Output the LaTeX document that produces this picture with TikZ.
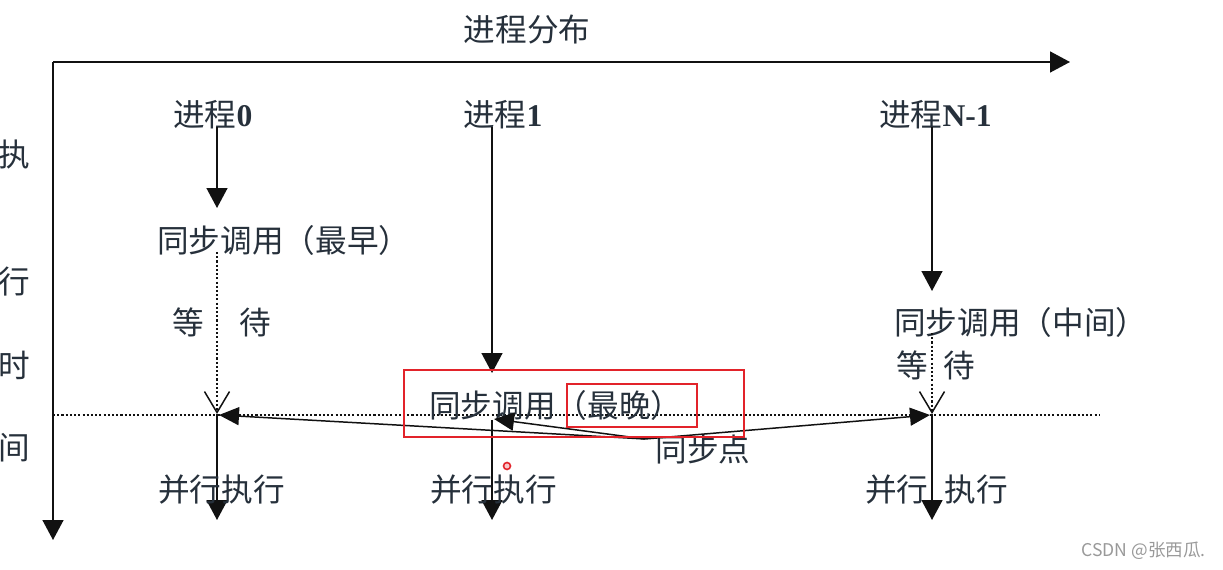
\documentclass[tikz,border=0pt]{standalone}
\usepackage{fontspec}
\setmainfont{Liberation Serif}
\newfontfamily\cjk{Noto Sans CJK SC}
\usepackage{xcolor}
\usetikzlibrary{arrows.meta}
\definecolor{ink}{HTML}{111111}
\definecolor{txt}{HTML}{26303B}
\definecolor{hlred}{HTML}{E2232A}
\definecolor{wm}{HTML}{999999}
\tikzset{
  arr/.style={draw=ink, line width=0.85pt, -{Triangle[length=0.4cm, width=0.42cm]}},
  waitline/.style={draw=ink, line width=0.85pt, dash pattern=on 1.2pt off 1.2pt, -{Straight Barb[length=0.42cm, width=0.5cm]}},
  syncline/.style={draw=ink, line width=0.85pt, dash pattern=on 1.2pt off 1.2pt},
  ptr/.style={draw=ink, line width=0.85pt, -{Triangle[length=0.4cm, width=0.36cm]}},
  markbox/.style={draw=hlred, line width=1.1pt},
  lbl/.style={text=txt, font=\cjk\fontsize{18}{21}\selectfont, inner sep=0pt},
  wmark/.style={text=wm, font=\cjk\fontsize{10}{12}\selectfont, inner sep=0pt}
}
\newcommand{\lat}[1]{{\rmfamily\bfseries #1}}

\begin{document}
\begin{tikzpicture}[x=0.02cm, y=-0.02cm]
  \useasboundingbox (0,0) rectangle (1223,570);

  % axes
  \coordinate (O) at (53,62);
  \coordinate (X) at (1070,62);
  \coordinate (Y) at (53,540);
  \draw[arr] (O) -- (X);
  \draw[arr] (O) -- (Y);
  \node[lbl] (xlbl) at (527,30) {进程分布};
  \node[lbl] (t1) at (14,155) {执};
  \node[lbl] (t2) at (14,282) {行};
  \node[lbl] (t3) at (14,365) {时};
  \node[lbl] (t4) at (14,448) {间};

  % sync line
  \coordinate (SL) at (53,415);
  \coordinate (SR) at (1100,415);
  \draw[syncline] (SL) -- (SR);

  % process 0
  \node[lbl, anchor=west] (p0) at (173,115) {进程\lat{0}};
  \coordinate (a0) at (217,127);
  \coordinate (b0) at (217,208);
  \draw[arr] (a0) -- (b0);
  \node[lbl, anchor=west] (call0) at (157,240) {同步调用（最早）};
  \coordinate (w0) at (217,252);
  \coordinate (s0) at (217,414);
  \draw[waitline] (w0) -- (s0);
  \node[lbl] (wait0) at (222,322) {等\hspace{1.1em}待};
  \coordinate (e0) at (217,520);
  \draw[arr] (s0) -- (e0);
  \node[lbl, anchor=west] (run0) at (158,490) {并行执行};

  % process 1
  \node[lbl, anchor=west] (p1) at (463,115) {进程\lat{1}};
  \coordinate (a1) at (492,127);
  \coordinate (b1) at (492,373);
  \draw[arr] (a1) -- (b1);
  \node[lbl, anchor=west] (call1) at (429,405) {同步调用（最晚）};
  \coordinate (s1) at (492,420);
  \coordinate (e1) at (492,520);
  \draw[arr] (s1) -- (e1);
  \node[lbl, anchor=west] (run1) at (430,490) {并行执行};

  % process N-1
  \node[lbl, anchor=west] (pn) at (879,115) {进程\lat{N-1}};
  \coordinate (an) at (932,127);
  \coordinate (bn) at (932,291);
  \draw[arr] (an) -- (bn);
  \node[lbl, anchor=west] (calln) at (894,322) {同步调用（中间）};
  \node[lbl, anchor=west] (waitn) at (896,365) {等\hspace{0.5em}待};
  \coordinate (wn) at (932,333);
  \coordinate (sn) at (932,414);
  \draw[waitline] (wn) -- (sn);
  \coordinate (en) at (932,520);
  \draw[arr] (sn) -- (en);
  \node[lbl, anchor=west] (runn) at (865,490) {并行\hspace{0.5em}执行};

  % sync point
  \node[lbl] (sync) at (703,450) {同步点};
  \coordinate (sp) at (645,439);
  \coordinate (h0) at (219,415);
  \coordinate (h1) at (494,419);
  \coordinate (hn) at (930,415);
  \draw[ptr] (sp) -- (h0);
  \draw[ptr] (sp) -- (h1);
  \draw[ptr] (sp) -- (hn);

  % highlight
  \draw[markbox] (404,370) rectangle (744,437);
  \draw[markbox] (567,384) rectangle (697,427);
  \draw[hlred, fill=hlred!25, line width=0.9pt] (507,466) circle (3.5);

  \node[wmark, anchor=east] (wmk) at (1206,551) {CSDN @张西瓜.};
\end{tikzpicture}
\end{document}
